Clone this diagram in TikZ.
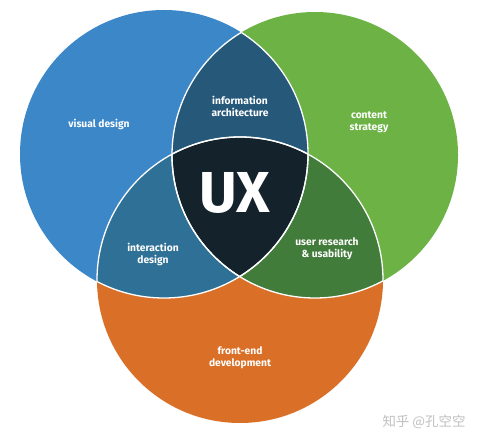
\documentclass[tikz,border=0pt]{standalone}
\usepackage{fontspec}
\setmainfont{Fira Sans}
\newfontfamily\cjkfont{Noto Sans CJK SC}
\definecolor{cblue}{HTML}{3C87C8}
\definecolor{cgreen}{HTML}{6CB244}
\definecolor{corange}{HTML}{DA6F28}
\definecolor{cbg}{HTML}{26587A}
\definecolor{cbo}{HTML}{2F7196}
\definecolor{cgo}{HTML}{427C3A}
\definecolor{cux}{HTML}{14222B}
\begin{document}
\begin{tikzpicture}[x=1bp,y=-1bp,
  lbl/.style={text=white,font=\fontsize{10.3}{12}\selectfont\bfseries,align=center,inner sep=0pt},
  sep/.style={draw=white,line width=1.3bp}]
\useasboundingbox (0,0) rectangle (482,444);
\def\blue{(164,154) circle[radius=144]}
\def\green{(315,155) circle[radius=143]}
\def\orange{(240,280) circle[radius=143]}
\fill[cblue] \blue;
\fill[cgreen] \green;
\fill[corange] \orange;
\begin{scope}\clip \blue; \fill[cbg] \green; \end{scope}
\begin{scope}\clip \blue; \fill[cbo] \orange; \end{scope}
\begin{scope}\clip \green; \fill[cgo] \orange; \end{scope}
\begin{scope}\clip \blue; \clip \green; \fill[cux] \orange; \end{scope}
\begin{scope}\clip \green; \draw[sep] \blue; \end{scope}
\begin{scope}\clip \orange; \draw[sep] \blue; \end{scope}
\begin{scope}\clip \blue; \draw[sep] \green; \end{scope}
\begin{scope}\clip \orange; \draw[sep] \green; \end{scope}
\begin{scope}\clip \blue; \draw[sep] \orange; \end{scope}
\begin{scope}\clip \green; \draw[sep] \orange; \end{scope}
\node[lbl] (vd) at (99,124) {visual design};
\node[lbl] (ia) at (240,106) {information\\architecture};
\node[lbl] (cs) at (369,122) {content\\strategy};
\node[lbl] (id) at (153,254) {interaction\\design};
\node[lbl] (ur) at (327,249) {user research\\\& usability};
\node[lbl] (fd) at (240,358) {front-end\\development};
\node[text=white,font=\fontsize{58}{58}\selectfont\bfseries,inner sep=0pt] (ux) at (235,193) {UX};
\node[text=black!25,font=\cjkfont\fontsize{13.5}{13.5}\selectfont,inner sep=0pt] (wm) at (424,422) {知乎 @孔空空};
\end{tikzpicture}
\end{document}
